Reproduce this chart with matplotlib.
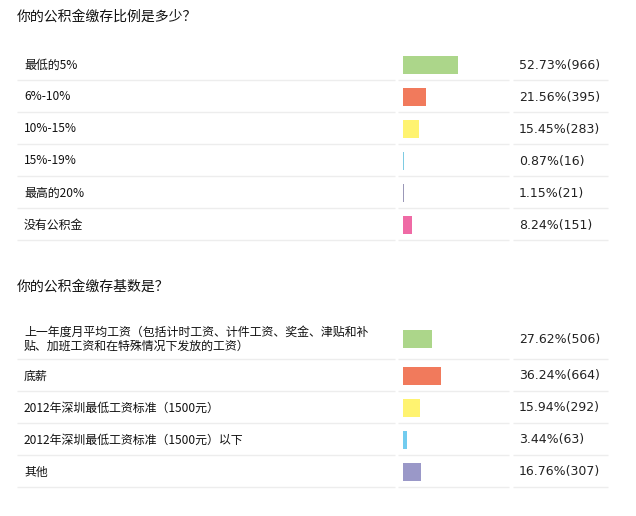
import matplotlib
matplotlib.use("Agg")
from matplotlib import pyplot as plt

plt.rcParams['font.family'] = ['Noto Sans CJK SC', 'DejaVu Sans']

# survey data
title1 = "你的公积金缴存比例是多少？"
labels1 = ["最低的5%", "6%-10%", "10%-15%", "15%-19%", "最高的20%", "没有公积金"]
pcts1 = [52.73, 21.56, 15.45, 0.87, 1.15, 8.24]
counts1 = [966, 395, 283, 16, 21, 151]
colors1 = ["#acd68a", "#f17a5c", "#fff370", "#7ecbe2", "#9b98b8", "#ef6aa5"]

title2 = "你的公积金缴存基数是？"
labels2 = ["上一年度月平均工资（包括计时工资、计件工资、奖金、津贴和补\n贴、加班工资和在特殊情况下发放的工资）",
           "底薪", "2012年深圳最低工资标准（1500元）",
           "2012年深圳最低工资标准（1500元）以下", "其他"]
pcts2 = [27.62, 36.24, 15.94, 3.44, 16.76]
counts2 = [506, 664, 292, 63, 307]
colors2 = ["#acd68a", "#f17a5c", "#fff370", "#72ccef", "#9a98c8"]

W, H = 636, 516
fig = plt.figure(figsize=(W / 100, H / 100), dpi=100)

# page axes in pixel coordinates for text and separators
ax = fig.add_axes([0, 0, 1, 1])
ax.set_xlim(0, W)
ax.set_ylim(H, 0)
ax.axis('off')

line_c = "#ededed"
bar_x0 = 403
px_per_pct = 1.045


def section(title, title_y, labels, pcts, counts, colors, centers, bottoms):
    ax.text(17, title_y, title, fontsize=10, va='center', ha='left', color='#111111')
    for lab, p, n, yc, yb in zip(labels, pcts, counts, centers, bottoms):
        ax.text(24, yc, lab, fontsize=8.6, va='center', ha='left', color='#111111',
                linespacing=1.12)
        ax.text(519, yc, f"{p:.2f}%({n})", fontsize=9, va='center', ha='left',
                color='#222222', family='DejaVu Sans')
        for x0, x1 in [(17, 395), (398, 509), (513, 608)]:
            ax.plot([x0, x1], [yb, yb], color=line_c, lw=1, solid_capstyle='butt')

    # bar column: x in percent, y in page pixels
    top = min(centers) - 30
    bot = max(bottoms) + 2
    bax = fig.add_axes([bar_x0 / W, 1 - bot / H, 100 * px_per_pct / W, (bot - top) / H])
    bax.set_xlim(0, 100)
    bax.set_ylim(bot, top)
    bax.axis('off')
    bax.barh(centers, pcts, height=18, color=colors, linewidth=0)


section(title1, 17, labels1, pcts1, counts1, colors1,
        [65, 97, 129, 161, 193, 225], [80, 112, 144, 176, 208, 240])
section(title2, 287, labels2, pcts2, counts2, colors2,
        [339, 376, 408, 440, 472], [359, 391, 423, 455, 487])

fig.savefig("out.png", dpi=100, facecolor='white')
